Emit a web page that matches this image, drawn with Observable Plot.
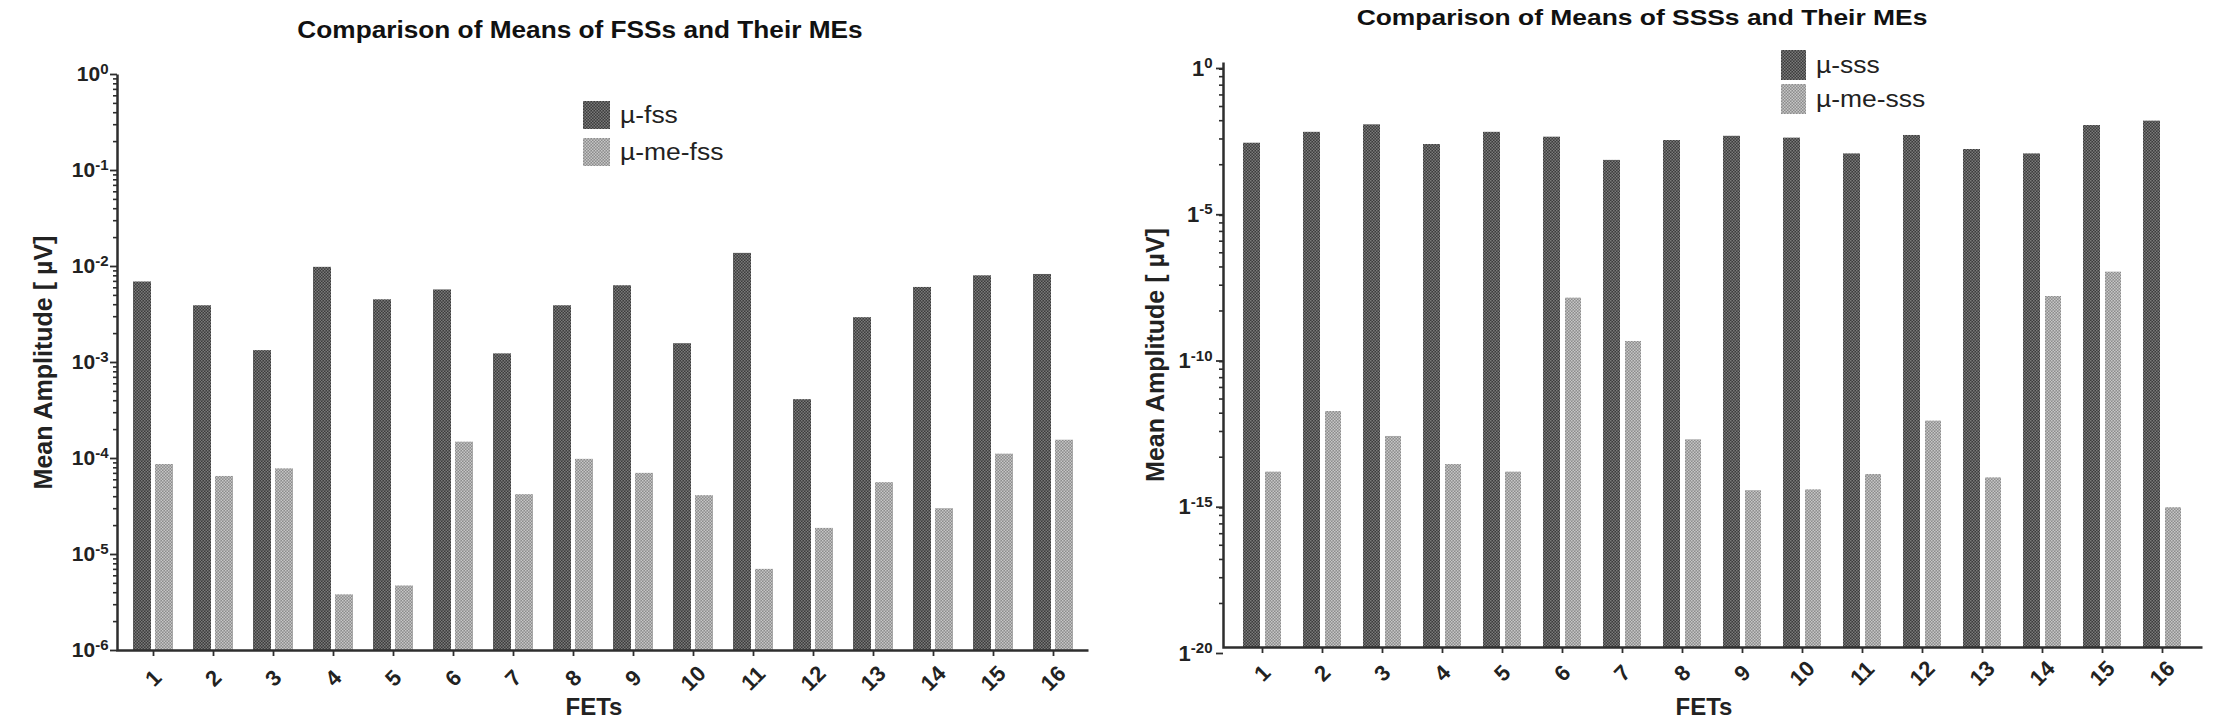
<!DOCTYPE html>
<html>
<head>
<meta charset="utf-8">
<script src="https://cdn.jsdelivr.net/npm/d3@7"></script>
<script src="https://cdn.jsdelivr.net/npm/@observablehq/plot@0.6"></script>
<style>
  html, body { margin: 0; padding: 0; background: #fff; }
  #chart { position: relative; width: 2218px; height: 727px; background: #fff; overflow: hidden;
           font-family: "Liberation Sans", Arial, sans-serif; color: #111; }
  .title { position: absolute; font-weight: bold; white-space: nowrap; line-height: 1; }
  .legend { position: absolute; display: flex; flex-direction: column; }
  .legend .item { display: flex; align-items: center; white-space: nowrap; }
  .legend .label { transform: scaleX(1.15); transform-origin: left center; color: #222; }
  .panel { position: absolute; top: 0; }
</style>
</head>
<body>
<div id="chart">
  <svg width="0" height="0" style="position:absolute">
    <defs>
      <pattern id="patDark" width="3" height="3" patternUnits="userSpaceOnUse">
        <rect width="3" height="3" fill="#3c3c3c"/>
        <rect width="1.5" height="1.5" fill="#7a7a7a"/>
        <rect x="1.5" y="1.5" width="1.5" height="1.5" fill="#7a7a7a"/>
      </pattern>
      <pattern id="patLight" width="3" height="3" patternUnits="userSpaceOnUse">
        <rect width="3" height="3" fill="#8c8c8c"/>
        <rect width="1.5" height="1.5" fill="#c6c6c6"/>
        <rect x="1.5" y="1.5" width="1.5" height="1.5" fill="#c6c6c6"/>
      </pattern>
    </defs>
  </svg>
</div>
<script>
// FET indices shared by both panels
const fets = ["1", "2", "3", "4", "5", "6", "7", "8", "9", "10", "11", "12", "13", "14", "15", "16"];

// Mean amplitudes (µV) of first-stage signals and their measurement errors
const fssMean   = [6.9e-3, 3.9e-3, 1.33e-3, 9.8e-3, 4.5e-3, 5.7e-3, 1.23e-3, 3.9e-3,
                   6.3e-3, 1.57e-3, 1.37e-2, 4.1e-4, 2.93e-3, 6.05e-3, 8.0e-3, 8.26e-3];
const meFssMean = [8.66e-5, 6.5e-5, 7.8e-5, 3.8e-6, 4.7e-6, 1.48e-4, 4.2e-5, 9.8e-5,
                   7.0e-5, 4.1e-5, 7.0e-6, 1.87e-5, 5.6e-5, 3.0e-5, 1.11e-4, 1.55e-4];

// Mean amplitudes (µV) of second-stage signals and their measurement errors
const sssMean   = [1.74e-3, 4.1e-3, 7.4e-3, 1.57e-3, 4.1e-3, 2.8e-3, 4.5e-4, 2.15e-3,
                   3.0e-3, 2.6e-3, 7.5e-4, 3.2e-3, 1.06e-3, 7.5e-4, 7.0e-3, 9.9e-3];
const meSssMean = [9.9e-15, 1.17e-12, 1.64e-13, 1.8e-14, 9.9e-15, 8.8e-9, 2.9e-10, 1.26e-13,
                   2.3e-15, 2.45e-15, 8.2e-15, 5.5e-13, 6.3e-15, 1e-8, 6.8e-8, 6e-16];

// Y-axis major ticks and their labels ("base^exponent")
const fssTicks      = [1, 1e-1, 1e-2, 1e-3, 1e-4, 1e-5, 1e-6];
const fssTickLabels = ["10^0", "10^-1", "10^-2", "10^-3", "10^-4", "10^-5", "10^-6"];
const sssTicks      = [1, 1e-5, 1e-10, 1e-15, 1e-20];
const sssTickLabels = ["1^0", "1^-5", "1^-10", "1^-15", "1^-20"];

// Minor ticks: 2..9 within each labelled interval on the log axis
function minorTicks(majors, decadesPerStep) {
  const out = [];
  for (let k = 1; k < majors.length; k++) {
    for (let m = 2; m <= 9; m++) out.push(majors[k] * Math.pow(m, decadesPerStep));
  }
  return out;
}

const chart = document.getElementById("chart");
const SVGNS = "http://www.w3.org/2000/svg";

// Turn "base^exp" tick labels into a base with a raised exponent
function raiseExponents(svg, expSize) {
  svg.querySelectorAll("text").forEach(t => {
    const s = t.textContent;
    if (!s.includes("^")) return;
    const [base, exp] = s.split("^");
    t.textContent = "";
    const b = document.createElementNS(SVGNS, "tspan");
    b.textContent = base;
    const e = document.createElementNS(SVGNS, "tspan");
    e.setAttribute("dy", "-0.5em");
    e.setAttribute("font-size", expSize);
    e.textContent = exp;
    t.appendChild(b);
    t.appendChild(e);
  });
}

function panel(cfg) {
  const rows = fets.map((f, i) => ({fet: f, main: cfg.main[i], me: cfg.me[i]}));
  const labelOf = new Map(cfg.ticks.map((t, i) => [t, cfg.tickLabels[i]]));
  const W = cfg.width - cfg.marginLeft - cfg.marginRight;
  const H = cfg.height - cfg.marginTop - cfg.marginBottom;
  const svg = Plot.plot({
    width: cfg.width,
    height: cfg.height,
    marginLeft: cfg.marginLeft,
    marginRight: cfg.marginRight,
    marginTop: cfg.marginTop,
    marginBottom: cfg.marginBottom,
    style: {fontFamily: "'Liberation Sans', Arial, sans-serif", background: "transparent", color: "#222"},
    x: {type: "band", domain: fets, paddingInner: cfg.paddingInner, paddingOuter: cfg.paddingOuter, label: null},
    y: {type: "log", domain: [cfg.floor, 1], label: null},
    marks: [
      Plot.barY(rows, {x: "fet", y1: cfg.floor, y2: "main", fill: "url(#patDark)", insetRight: cfg.gapDark}),
      Plot.barY(rows, {x: "fet", y1: cfg.floor, y2: "me", fill: "url(#patLight)", insetLeft: cfg.gapLight}),
      // left and bottom axis lines
      Plot.frame({stroke: "#2e2e2e", strokeWidth: 2.5, strokeDasharray: `0 ${W + H} ${W + H}`}),
      Plot.axisY(minorTicks(cfg.ticks, cfg.decadesPerStep), {
        tickSize: 4, tickFormat: () => "", stroke: "#2e2e2e", strokeWidth: 1.6
      }),
      Plot.axisY(cfg.ticks, {
        tickSize: 7, tickPadding: cfg.tickPadding, stroke: "#2e2e2e", strokeWidth: 1.8,
        tickFormat: d => labelOf.get(d), fontSize: cfg.yFont, fontWeight: "bold", fill: "#222",
        dy: cfg.yLabelDy
      }),
      Plot.axisX({tickSize: 6, tickFormat: () => "", stroke: "#2e2e2e", strokeWidth: 1.8}),
      Plot.text(fets, {
        x: d => d, text: d => d, frameAnchor: "bottom", dy: cfg.xLabelDy, rotate: -45,
        textAnchor: "middle", lineAnchor: "middle",
        fontSize: 22, fontWeight: "bold", fill: "#222"
      }),
      Plot.text(["Mean Amplitude [ µV]"], {
        frameAnchor: "left", dx: -cfg.yTitleOffset, rotate: -90,
        textAnchor: "middle", lineAnchor: "middle",
        fontSize: 25, fontWeight: "bold", fill: "#222"
      }),
      Plot.text(["FETs"], {
        frameAnchor: "bottom", dy: cfg.xTitleDy, dx: -9,
        textAnchor: "middle", lineAnchor: "middle",
        fontSize: 24, fontWeight: "bold", fill: "#222"
      })
    ]
  });
  raiseExponents(svg, cfg.expFont);
  svg.classList.add("panel");
  svg.style.left = cfg.left + "px";
  chart.appendChild(svg);

  const title = document.createElement("div");
  title.className = "title";
  title.textContent = cfg.title;
  title.style.fontSize = cfg.titleFont + "px";
  title.style.left = cfg.titleX + "px";
  title.style.top = cfg.titleTop + "px";
  title.style.transform = `translateX(-50%) scaleX(${cfg.titleStretch})`;
  chart.appendChild(title);

  const legend = document.createElement("div");
  legend.className = "legend";
  legend.style.left = cfg.legendX + "px";
  legend.style.top = cfg.legendY + "px";
  legend.style.gap = cfg.legendGap + "px";
  cfg.legendLabels.forEach((name, i) => {
    const item = document.createElement("div");
    item.className = "item";
    const sw = document.createElementNS(SVGNS, "svg");
    sw.setAttribute("width", cfg.swatchW);
    sw.setAttribute("height", cfg.swatchH);
    const r = document.createElementNS(SVGNS, "rect");
    r.setAttribute("width", cfg.swatchW);
    r.setAttribute("height", cfg.swatchH);
    r.setAttribute("fill", i === 0 ? "url(#patDark)" : "url(#patLight)");
    sw.appendChild(r);
    const lab = document.createElement("span");
    lab.className = "label";
    lab.textContent = name;
    lab.style.fontSize = "23px";
    lab.style.marginLeft = "10px";
    item.appendChild(sw);
    item.appendChild(lab);
    legend.appendChild(item);
  });
  chart.appendChild(legend);
}

panel({
  left: 0, width: 1109, height: 727,
  marginLeft: 117, marginRight: 21, marginTop: 74, marginBottom: 77,
  paddingInner: 0.3355, paddingOuter: 0.233, gapDark: 22, gapLight: 22,
  floor: 1e-6, main: fssMean, me: meFssMean,
  ticks: fssTicks, tickLabels: fssTickLabels, decadesPerStep: 1,
  yFont: 21, expFont: 15, tickPadding: 2, yLabelDy: 0,
  xLabelDy: 28, xTitleDy: 57, yTitleOffset: 74,
  title: "Comparison of Means of FSSs and Their MEs",
  titleFont: 23, titleX: 580, titleTop: 19, titleStretch: 1.14,
  legendLabels: ["µ-fss", "µ-me-fss"], legendX: 583, legendY: 101, legendGap: 9,
  swatchW: 27, swatchH: 28
});

panel({
  left: 1109, width: 1109, height: 727,
  marginLeft: 114, marginRight: 16, marginTop: 62, marginBottom: 80,
  paddingInner: 0.36, paddingOuter: 0.214, gapDark: 21, gapLight: 22,
  floor: 1e-20, main: sssMean, me: meSssMean,
  ticks: sssTicks, tickLabels: sssTickLabels, decadesPerStep: 5,
  yFont: 22, expFont: 15, tickPadding: 4, yLabelDy: 6,
  xLabelDy: 26, xTitleDy: 60, yTitleOffset: 68,
  title: "Comparison of Means of SSSs and Their MEs",
  titleFont: 22, titleX: 1642, titleTop: 7, titleStretch: 1.2,
  legendLabels: ["µ-sss", "µ-me-sss"], legendX: 1781, legendY: 50, legendGap: 4,
  swatchW: 25, swatchH: 30
});
</script>
</body>
</html>
